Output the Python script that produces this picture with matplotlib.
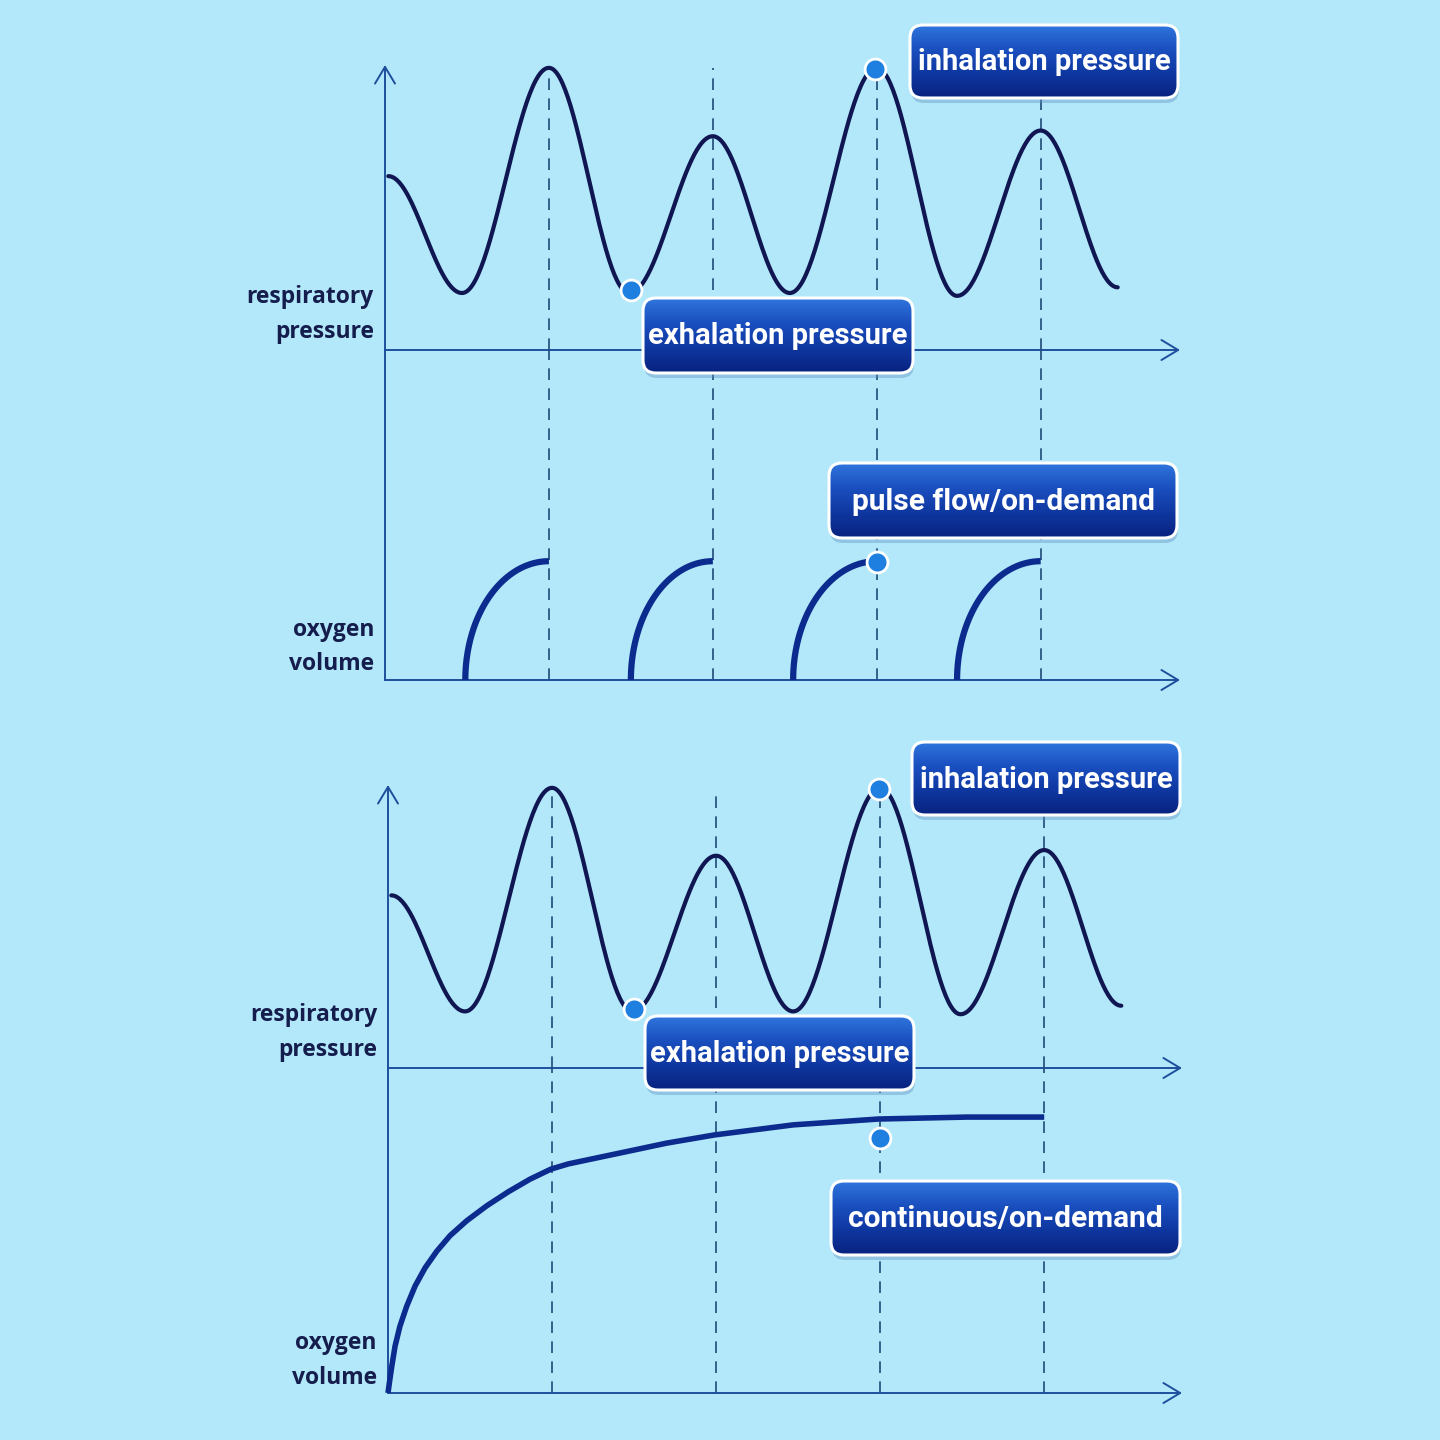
import numpy as np
import matplotlib.pyplot as plt
from matplotlib.patches import FancyBboxPatch
from matplotlib.colors import LinearSegmentedColormap

W = H = 1440
BG = "#b3e8fa"

# pressure waveform turning points (time in breaths, pressure in arbitrary units)
wave_t = [0.02, 0.47, 1.0, 1.49, 2.0, 2.47, 3.0, 3.49, 4.0, 4.47]
wave_p = [6.1, 2.0, 9.9, 2.0, 7.5, 2.0, 9.9, 1.9, 7.7, 2.2]

# pulse-flow oxygen boluses
pulse_start = [0.49, 1.5, 2.49, 3.49]
pulse_end = [1.0, 2.0, 3.0, 4.0]
pulse_height = [3.6, 3.6, 3.6, 3.6]

# continuous-flow oxygen volume
cont_t = [0, 0.008, 0.023, 0.043, 0.073, 0.114, 0.165, 0.226, 0.297, 0.378,
          0.48, 0.602, 0.733, 0.866, 0.994, 1.10, 1.41, 1.70, 1.99, 2.47,
          2.99, 3.53, 4.0]
cont_v = [0, 0.3, 0.82, 1.44, 2.06, 2.67, 3.29, 3.85, 4.36, 4.84,
          5.3, 5.76, 6.19, 6.58, 6.89, 7.05, 7.38, 7.69, 7.94, 8.25,
          8.43, 8.49, 8.49]

breath_marks = [1, 2, 3, 4]

# highlighted points
exh_pt = (1.5, 2.1)
inh_pt = (2.99, 9.85)
pulse_pt = (3.0, 3.58)
cont_pt = (3.0, 7.85)

AXIS_C = "#1d4f9c"
DASH_C = "#1f4a78"
WAVE_C = "#101652"
O2_C = "#0b2c8e"
LABEL_C = "#151d4d"
DOT_C = "#1f7fe0"


def smooth_wave(ts, ps, n=60):
    xs, ys = [], []
    for t0, p0, t1, p1 in zip(ts[:-1], ps[:-1], ts[1:], ps[1:]):
        s = np.linspace(0, 1, n)
        xs.append(t0 + (t1 - t0) * s)
        ys.append(p0 + (p1 - p0) * (1 - np.cos(np.pi * s)) / 2)
    return np.concatenate(xs), np.concatenate(ys)


def arrow(ax, start, end):
    ax.annotate("", xy=end, xytext=start, xycoords="axes fraction",
                textcoords="axes fraction",
                arrowprops=dict(arrowstyle="->,head_length=0.75,head_width=0.45",
                                color=AXIS_C, lw=1.4, mutation_scale=16,
                                shrinkA=0, shrinkB=0))


def side_label(ax, y, text):
    ax.annotate(text, xy=(0, y), xycoords=("axes fraction", "data"),
                xytext=(-11, 0), textcoords="offset pixels",
                ha="right", va="center", multialignment="right",
                fontsize=16.5, fontweight="bold", color=LABEL_C,
                family="Open Sans", linespacing=1.6)


def panel(fig, left, right, top, mid, bot, xmax):
    w = (right - left) / W
    ax_p = fig.add_axes([left / W, 1 - mid / H, w, (mid - top) / H])
    ax_o = fig.add_axes([left / W, 1 - bot / H, w, (bot - mid) / H])
    for ax in (ax_p, ax_o):
        ax.set_xlim(0, xmax)
        ax.set_ylim(0, 10)
        ax.axis("off")
        ax.patch.set_alpha(0)
        for t in breath_marks:
            ax.axvline(t, ymin=0, ymax=0.99 if ax is ax_p else 1,
                       color=DASH_C, lw=1.2, dashes=(7, 5), zorder=1)
    arrow(ax_p, (0, 0), (0, 1))
    arrow(ax_p, (0, 0), (1, 0))
    arrow(ax_o, (0, 0), (1, 0))
    ax_o.plot([0, 0], [0, 10], color=AXIS_C, lw=1.4, clip_on=False)

    x, y = smooth_wave(wave_t, wave_p)
    ax_p.plot(x, y, color=WAVE_C, lw=3, solid_capstyle="round", zorder=3,
              clip_on=False)
    ax_p.plot(*exh_pt, "o", ms=15, mfc=DOT_C, mec="white", mew=2, zorder=5,
              clip_on=False)
    ax_p.plot(*inh_pt, "o", ms=15, mfc=DOT_C, mec="white", mew=2, zorder=5,
              clip_on=False)
    side_label(ax_p, 1.25, "respiratory\npressure")
    side_label(ax_o, 1.0, "oxygen\nvolume")
    return ax_p, ax_o


def label_box(ov, x0, y0, x1, y1, text, fs):
    style = "round,pad=0,rounding_size=13"
    shadow = FancyBboxPatch((x0 + 1, y0 + 5), x1 - x0, y1 - y0, boxstyle=style,
                            fc="#5e8fbf", ec="none", alpha=0.4, zorder=6)
    box = FancyBboxPatch((x0, y0), x1 - x0, y1 - y0, boxstyle=style,
                         fc="#1546b3", ec="none", zorder=7)
    ov.add_patch(shadow)
    ov.add_patch(box)
    grad = np.linspace(0, 1, 100).reshape(-1, 1)
    im = ov.imshow(grad, extent=(x0, x1, y1, y0), origin="upper",
                   aspect="auto", cmap=box_cmap, zorder=8)
    im.set_clip_path(box)
    edge = FancyBboxPatch((x0, y0), x1 - x0, y1 - y0, boxstyle=style,
                          fc="none", ec="white", lw=2.2, zorder=9)
    ov.add_patch(edge)
    ov.text((x0 + x1) / 2, (y0 + y1) / 2 + 1, text, color="white",
            fontsize=fs, fontweight="bold", family="Roboto",
            ha="center", va="center", zorder=10)


box_cmap = LinearSegmentedColormap.from_list(
    "box", ["#2f75dd", "#1a4fbf", "#0f37a0", "#08227f"])

fig = plt.figure(figsize=(14.4, 14.4), dpi=100, facecolor=BG)

# top panel: pulse flow
ax_p, ax_o = panel(fig, 385, 1180, 65, 350, 680, 4.85)
for s, e, h in zip(pulse_start, pulse_end, pulse_height):
    th = np.linspace(0, np.pi / 2, 80)
    ax_o.plot(s + (e - s) * (1 - np.cos(th)), h * np.sin(th), color=O2_C,
              lw=4.5, solid_capstyle="butt", zorder=3)
ax_o.plot(*pulse_pt, "o", ms=15, mfc=DOT_C, mec="white", mew=2, zorder=5)

# bottom panel: continuous flow
ax_p2, ax_o2 = panel(fig, 388, 1182, 785, 1068, 1393, 4.84)
ax_o2.plot(cont_t, cont_v, color=O2_C, lw=4, solid_capstyle="butt",
           solid_joinstyle="round", zorder=3, clip_on=False)
ax_o2.plot(*cont_pt, "o", ms=15, mfc=DOT_C, mec="white", mew=2, zorder=5)

# overlay for the callout boxes (pixel coordinates)
ov = fig.add_axes([0, 0, 1, 1], zorder=5)
ov.axis("off")
ov.patch.set_alpha(0)
label_box(ov, 910, 25, 1178, 98, "inhalation pressure", 21)
label_box(ov, 643, 298, 913, 373, "exhalation pressure", 21)
label_box(ov, 829, 463, 1177, 538, "pulse flow/on-demand", 21.5)
label_box(ov, 912, 742, 1180, 815, "inhalation pressure", 21)
label_box(ov, 645, 1016, 914, 1090, "exhalation pressure", 21)
label_box(ov, 831, 1181, 1180, 1255, "continuous/on-demand", 21.5)
ov.set_xlim(0, W)
ov.set_ylim(H, 0)

fig.savefig("out.png", dpi=100, facecolor=BG)
